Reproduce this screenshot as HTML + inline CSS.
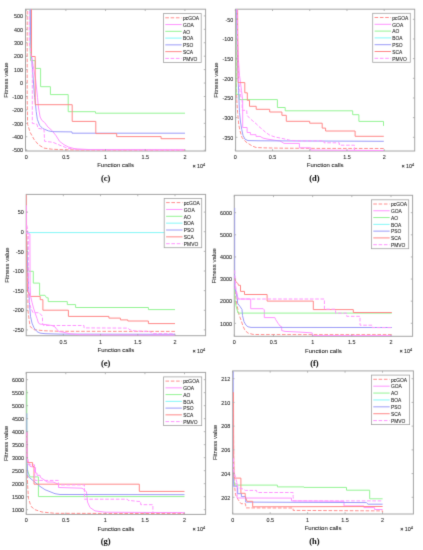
<!DOCTYPE html><html><head><meta charset="utf-8"><style>html,body{margin:0;padding:0;background:#fff;}svg{display:block;}text{font-family:"Liberation Sans", sans-serif;stroke:#262626;stroke-width:0.08px;}</style></head><body>
<svg width="423" height="550" viewBox="0 0 423 550">
<defs><filter id="bl" x="0" y="0" width="423" height="550" filterUnits="userSpaceOnUse" color-interpolation-filters="sRGB"><feConvolveMatrix order="3" kernelMatrix="0.0113 0.0838 0.0113 0.0838 0.6193 0.0838 0.0113 0.0838 0.0113" edgeMode="duplicate" preserveAlpha="false"/></filter></defs>
<g filter="url(#bl)">
<rect width="423" height="550" fill="#fff"/>
<g><clipPath id="cc"><rect x="25.5" y="9.2" width="180.1" height="141.8"/></clipPath><rect x="25.5" y="9.2" width="180.1" height="141.8" fill="none" stroke="#a4a4a4" stroke-width="1"/><g clip-path="url(#cc)" fill="none" stroke-width="1"><polyline points="27.2,0.3 27.2,100.3 27.6,124.3 30.1,132.3 34,139.3 38.4,144.7 44,148.1 51.8,149.2 63,149.7 80,150 185,150.1" stroke="#ff8e8e" stroke-dasharray="3.6 1.7"/><polyline points="30.6,0.3 31,40.3 31.6,56.3 33,65.3 35.5,78.3 37.5,97.3 38.4,107 40.1,117 41.8,120.3 44.6,122.5 47.9,127 51.8,130.3 56.2,135.9 59.6,141.4 64,144.7 68.4,147 75,148.8 90,149.6 185,149.9" stroke="#ff94ff"/><polyline points="29.9,0.3 30.2,51.3 30.5,60.6 35.3,60.6 35.3,68.4 40.6,68.4 40.6,86.7 50.4,86.7 50.4,94.6 68.2,94.6 68.2,111.7 95.5,111.7 95.5,113.2 185,113.2" stroke="#94f494"/><polyline points="30.2,0.3 30.6,35.3 31.2,51.3 31.8,60.3 34.6,97.3 35.1,100.3 36.2,111.3 37.3,119.2 39.6,125.3 42.9,128.6 48.4,130.9 52.9,131.7 72,131.9 72,133.2 185,133.2" stroke="#9c9cf8"/><polyline points="31.5,0.3 31.5,56.5 35.2,56.5 35.2,104.7 72.2,104.7 72.2,121.4 95.8,121.4 95.8,133.6 116.7,133.6 116.7,136.6 161.1,136.6 161.1,138.7 185,138.7" stroke="#ff8888"/><polyline points="29.2,0.3 29.3,41.3 30.5,52.3 32,62.3 32.3,70.3 32.3,123.3 37,124.3 38,128.3 44,129.3 44.6,141.3 53,142.3 60,145.3 68,148.3 80,149.6 185,149.9" stroke="#ff94ff" stroke-dasharray="3.6 1.7"/></g><path d="M26.2 151v-1.8M26.2 9.2v1.8M65.88 151v-1.8M65.88 9.2v1.8M105.55 151v-1.8M105.55 9.2v1.8M145.22 151v-1.8M145.22 9.2v1.8M184.9 151v-1.8M184.9 9.2v1.8M25.5 150.2h1.8M205.6 150.2h-1.8M25.5 136.77h1.8M205.6 136.77h-1.8M25.5 123.34h1.8M205.6 123.34h-1.8M25.5 109.91h1.8M205.6 109.91h-1.8M25.5 96.48h1.8M205.6 96.48h-1.8M25.5 83.05h1.8M205.6 83.05h-1.8M25.5 69.62h1.8M205.6 69.62h-1.8M25.5 56.19h1.8M205.6 56.19h-1.8M25.5 42.76h1.8M205.6 42.76h-1.8M25.5 29.33h1.8M205.6 29.33h-1.8M25.5 15.9h1.8M205.6 15.9h-1.8" stroke="#a4a4a4" stroke-width="0.8" fill="none"/><text x="26.2" y="158.8" font-size="5.4" text-anchor="middle" fill="#262626">0</text><text x="65.88" y="158.8" font-size="5.4" text-anchor="middle" fill="#262626">0.5</text><text x="105.55" y="158.8" font-size="5.4" text-anchor="middle" fill="#262626">1</text><text x="145.22" y="158.8" font-size="5.4" text-anchor="middle" fill="#262626">1.5</text><text x="184.9" y="158.8" font-size="5.4" text-anchor="middle" fill="#262626">2</text><text x="23.1" y="152.4" font-size="5.4" text-anchor="end" fill="#262626">-500</text><text x="23.1" y="138.97" font-size="5.4" text-anchor="end" fill="#262626">-400</text><text x="23.1" y="125.54" font-size="5.4" text-anchor="end" fill="#262626">-300</text><text x="23.1" y="112.11" font-size="5.4" text-anchor="end" fill="#262626">-200</text><text x="23.1" y="98.68" font-size="5.4" text-anchor="end" fill="#262626">-100</text><text x="23.1" y="85.25" font-size="5.4" text-anchor="end" fill="#262626">0</text><text x="23.1" y="71.82" font-size="5.4" text-anchor="end" fill="#262626">100</text><text x="23.1" y="58.39" font-size="5.4" text-anchor="end" fill="#262626">200</text><text x="23.1" y="44.96" font-size="5.4" text-anchor="end" fill="#262626">300</text><text x="23.1" y="31.53" font-size="5.4" text-anchor="end" fill="#262626">400</text><text x="23.1" y="18.1" font-size="5.4" text-anchor="end" fill="#262626">500</text><text x="115.55" y="167.2" font-size="6" text-anchor="middle" fill="#262626">Function calls</text><text transform="translate(7.9 80.1) rotate(-90)" font-size="6" text-anchor="middle" fill="#262626">Fitness value</text><text x="192.5" y="168" font-size="5.6" fill="#262626">&#215;</text><text x="196.9" y="168" font-size="5.4" fill="#262626">10</text><text x="203" y="165.9" font-size="3.9" fill="#262626">4</text><text x="105.6" y="180.9" font-size="8.5" font-weight="bold" text-anchor="middle" fill="#111" style="font-family:'Liberation Serif',serif;stroke:#111;stroke-width:0.05px">(c)</text><rect x="163.4" y="13.6" width="37.8" height="48.8" fill="#fff" stroke="#a4a4a4" stroke-width="0.8"/><line x1="165.3" y1="17.8" x2="181.7" y2="17.8" stroke="#ff8e8e" stroke-width="1" stroke-dasharray="3.6 1.7"/><text x="183" y="20.1" font-size="4.9" fill="#262626">pcGOA</text><line x1="165.3" y1="24.57" x2="181.7" y2="24.57" stroke="#ff94ff" stroke-width="1"/><text x="183" y="26.87" font-size="4.9" fill="#262626">GOA</text><line x1="165.3" y1="31.33" x2="181.7" y2="31.33" stroke="#94f494" stroke-width="1"/><text x="183" y="33.63" font-size="4.9" fill="#262626">AO</text><line x1="165.3" y1="38.1" x2="181.7" y2="38.1" stroke="#84f8f8" stroke-width="1"/><text x="183" y="40.4" font-size="4.9" fill="#262626">BOA</text><line x1="165.3" y1="44.87" x2="181.7" y2="44.87" stroke="#9c9cf8" stroke-width="1"/><text x="183" y="47.17" font-size="4.9" fill="#262626">PSO</text><line x1="165.3" y1="51.63" x2="181.7" y2="51.63" stroke="#ff8888" stroke-width="1"/><text x="183" y="53.93" font-size="4.9" fill="#262626">SCA</text><line x1="165.3" y1="58.4" x2="181.7" y2="58.4" stroke="#ff94ff" stroke-width="1" stroke-dasharray="3.6 1.7"/><text x="183" y="60.7" font-size="4.9" fill="#262626">PMVO</text></g>
<g><clipPath id="cd"><rect x="235.6" y="9.2" width="179.1" height="141.8"/></clipPath><rect x="235.6" y="9.2" width="179.1" height="141.8" fill="none" stroke="#a4a4a4" stroke-width="1"/><g clip-path="url(#cd)" fill="none" stroke-width="1"><polyline points="235.8,9.3 236.3,80.3 236.8,100.3 237.6,112.3 238.7,124.2 240,130.9 242,137.5 246,142 252,145.9 256,147.5 265,147.9 283,148.2 320,148.4 383.8,148.5" stroke="#ff8e8e" stroke-dasharray="3.6 1.7"/><polyline points="236.8,9.3 237.8,50.3 239.5,75.3 241.5,90.3 242.7,100.3 242.7,127.5 247.1,127.5 247.1,132.5 250.4,132.5 250.4,134.7 256,134.7 256,136.4 260,136.4 263,138.1 268,139.2 275,140.3 280,140.9 284,143.4 299.4,143.4 299.4,147.8 310.7,147.8 310.7,150.1 383.8,150.5" stroke="#ff94ff"/><polyline points="236.2,9.3 236.2,94.3 239.3,94.3 239.3,99.6 277.4,99.6 277.4,107.5 285.2,107.5 285.2,110.8 352.7,110.8 352.7,114.7 358.9,114.7 358.9,121.4 383.5,121.4 383.5,125.9" stroke="#94f494"/><polyline points="236.5,9.3 237.5,60.3 238.6,90.3 239.5,112.5 240.5,122 241.8,129.7 243,135.3 245,139.2 248,140.6 260,140.8 383.8,141.3" stroke="#9c9cf8"/><polyline points="237.6,9.3 238.2,82.6 244.8,82.6 244.8,92.8 247.3,92.8 247.3,100.3 249.5,100.3 249.5,106.3 256.2,106.3 256.2,109.3 269.7,109.3 269.7,112 281.9,112 281.9,115.3 286.3,115.3 286.3,121.3 309.7,121.3 309.7,123.2 322.2,123.2 322.2,128.1 325.6,128.1 325.6,131 355.1,131 355.1,136.3 383.8,136.3" stroke="#ff8888"/><polyline points="237,9.3 238.5,80.3 240.5,95.3 242.2,101.1 242.2,110.3 246.7,110.3 247,115.3 250,118.6 256,123.6 260,127.5 263,129.7 265,132 270,135.3 275,137 283,138.6 290,140.3 300,140.9 324,140.9 324,142.8 339.3,142.8 339.3,145.2 354.5,145.2 354.5,150.5 383.8,150.5" stroke="#ff94ff" stroke-dasharray="3.6 1.7"/></g><path d="M235.3 151v-1.8M235.3 9.2v1.8M272.52 151v-1.8M272.52 9.2v1.8M309.75 151v-1.8M309.75 9.2v1.8M346.98 151v-1.8M346.98 9.2v1.8M384.2 151v-1.8M384.2 9.2v1.8M235.6 137.3h1.8M414.7 137.3h-1.8M235.6 117.63h1.8M414.7 117.63h-1.8M235.6 97.97h1.8M414.7 97.97h-1.8M235.6 78.3h1.8M414.7 78.3h-1.8M235.6 58.63h1.8M414.7 58.63h-1.8M235.6 38.97h1.8M414.7 38.97h-1.8M235.6 19.3h1.8M414.7 19.3h-1.8" stroke="#a4a4a4" stroke-width="0.8" fill="none"/><text x="235.3" y="158.8" font-size="5.4" text-anchor="middle" fill="#262626">0</text><text x="272.52" y="158.8" font-size="5.4" text-anchor="middle" fill="#262626">0.5</text><text x="309.75" y="158.8" font-size="5.4" text-anchor="middle" fill="#262626">1</text><text x="346.98" y="158.8" font-size="5.4" text-anchor="middle" fill="#262626">1.5</text><text x="384.2" y="158.8" font-size="5.4" text-anchor="middle" fill="#262626">2</text><text x="233.2" y="139.5" font-size="5.4" text-anchor="end" fill="#262626">-350</text><text x="233.2" y="119.83" font-size="5.4" text-anchor="end" fill="#262626">-300</text><text x="233.2" y="100.17" font-size="5.4" text-anchor="end" fill="#262626">-250</text><text x="233.2" y="80.5" font-size="5.4" text-anchor="end" fill="#262626">-200</text><text x="233.2" y="60.83" font-size="5.4" text-anchor="end" fill="#262626">-150</text><text x="233.2" y="41.17" font-size="5.4" text-anchor="end" fill="#262626">-100</text><text x="233.2" y="21.5" font-size="5.4" text-anchor="end" fill="#262626">-50</text><text x="325.15" y="167.2" font-size="6" text-anchor="middle" fill="#262626">Function calls</text><text transform="translate(217.8 80.1) rotate(-90)" font-size="6" text-anchor="middle" fill="#262626">Fitness value</text><text x="401.6" y="168" font-size="5.6" fill="#262626">&#215;</text><text x="406" y="168" font-size="5.4" fill="#262626">10</text><text x="412.1" y="165.9" font-size="3.9" fill="#262626">4</text><text x="314.4" y="180.9" font-size="8.5" font-weight="bold" text-anchor="middle" fill="#111" style="font-family:'Liberation Serif',serif;stroke:#111;stroke-width:0.05px">(d)</text><rect x="372.7" y="13.3" width="37.6" height="49" fill="#fff" stroke="#a4a4a4" stroke-width="0.8"/><line x1="374.6" y1="17.5" x2="391" y2="17.5" stroke="#ff8e8e" stroke-width="1" stroke-dasharray="3.6 1.7"/><text x="392.3" y="19.8" font-size="4.9" fill="#262626">pcGOA</text><line x1="374.6" y1="24.3" x2="391" y2="24.3" stroke="#ff94ff" stroke-width="1"/><text x="392.3" y="26.6" font-size="4.9" fill="#262626">GOA</text><line x1="374.6" y1="31.1" x2="391" y2="31.1" stroke="#94f494" stroke-width="1"/><text x="392.3" y="33.4" font-size="4.9" fill="#262626">AO</text><line x1="374.6" y1="37.9" x2="391" y2="37.9" stroke="#84f8f8" stroke-width="1"/><text x="392.3" y="40.2" font-size="4.9" fill="#262626">BOA</text><line x1="374.6" y1="44.7" x2="391" y2="44.7" stroke="#9c9cf8" stroke-width="1"/><text x="392.3" y="47" font-size="4.9" fill="#262626">PSO</text><line x1="374.6" y1="51.5" x2="391" y2="51.5" stroke="#ff8888" stroke-width="1"/><text x="392.3" y="53.8" font-size="4.9" fill="#262626">SCA</text><line x1="374.6" y1="58.3" x2="391" y2="58.3" stroke="#ff94ff" stroke-width="1" stroke-dasharray="3.6 1.7"/><text x="392.3" y="60.6" font-size="4.9" fill="#262626">PMVO</text></g>
<g><clipPath id="ce"><rect x="26.2" y="194.4" width="179.4" height="141.3"/></clipPath><rect x="26.2" y="194.4" width="179.4" height="141.3" fill="none" stroke="#a4a4a4" stroke-width="1"/><g clip-path="url(#ce)" fill="none" stroke-width="1"><polyline points="26.6,225.3 27.5,255.3 28,310.9 30,326.4 34,329.7 45,330.8 60,331.3 175,331.4" stroke="#ff8e8e" stroke-dasharray="3.6 1.7"/><polyline points="26.5,240.3 27.5,265.3 29,271.3 33.3,271.3 33.3,283.1 39.6,283.1 39.6,295.3 45,295.3 46.5,297.8 48.2,297.8 48.2,301.6 67.3,301.6 67.3,304.6 75.6,304.6 75.6,307.5 148.4,307.5 148.4,309.6 175,309.6" stroke="#94f494"/><polyline points="26,232.6 175,232.6" stroke="#84f8f8"/><polyline points="26.4,230.3 27,255.3 28.5,285.3 29.5,304.3 30.5,316.3 32,323.1 34,327.9 37,331.6 40,333.1 45,333.7 60,334.1 175,334.3" stroke="#9c9cf8"/><polyline points="26.3,194.3 26.5,260.3 27.5,290.3 30.2,296.4 40.2,296.4 40.2,299.7 42.9,299.7 42.9,310.2 68.4,310.2 68.4,316.4 108.9,316.4 108.9,318.1 120.4,318.1 120.4,319.9 127.8,319.9 127.8,321 148.4,321 148.4,323.6 175,323.6" stroke="#ff8888"/><polyline points="26.5,205.3 26.6,233.9 29.9,233.9 30.1,285.3 30.5,295.7 32,302.3 33.5,308 35,312.7 37,318.4 38.5,323.1 40,324.1 45,324.5 52,325.5 55,326.9 57,329.7 59,331.6 63,332.1 70,333.8 80,334.8 175,335.3" stroke="#ff94ff"/><polyline points="26.7,225.3 28.3,233.9 28.4,290.3 29.5,303.3 31,308.3 33,312.7 39.2,312.7 42.5,316.3 42.5,323.3 43.5,325.5 84,325.5 84,327.9 127.8,328.1 130,329.9 135,331 150,331.4 152,333.6 175,333.8" stroke="#ff94ff" stroke-dasharray="3.6 1.7"/></g><path d="M63.33 335.7v-1.8M63.33 194.4v1.8M100.55 335.7v-1.8M100.55 194.4v1.8M137.78 335.7v-1.8M137.78 194.4v1.8M175 335.7v-1.8M175 194.4v1.8M26.2 329.9h1.8M205.6 329.9h-1.8M26.2 310.27h1.8M205.6 310.27h-1.8M26.2 290.63h1.8M205.6 290.63h-1.8M26.2 271h1.8M205.6 271h-1.8M26.2 251.37h1.8M205.6 251.37h-1.8M26.2 231.73h1.8M205.6 231.73h-1.8M26.2 212.1h1.8M205.6 212.1h-1.8" stroke="#a4a4a4" stroke-width="0.8" fill="none"/><text x="63.33" y="343.5" font-size="5.4" text-anchor="middle" fill="#262626">0.5</text><text x="100.55" y="343.5" font-size="5.4" text-anchor="middle" fill="#262626">1</text><text x="137.78" y="343.5" font-size="5.4" text-anchor="middle" fill="#262626">1.5</text><text x="175" y="343.5" font-size="5.4" text-anchor="middle" fill="#262626">2</text><text x="23.8" y="332.1" font-size="5.4" text-anchor="end" fill="#262626">-250</text><text x="23.8" y="312.47" font-size="5.4" text-anchor="end" fill="#262626">-200</text><text x="23.8" y="292.83" font-size="5.4" text-anchor="end" fill="#262626">-150</text><text x="23.8" y="273.2" font-size="5.4" text-anchor="end" fill="#262626">-100</text><text x="23.8" y="253.57" font-size="5.4" text-anchor="end" fill="#262626">-50</text><text x="23.8" y="233.93" font-size="5.4" text-anchor="end" fill="#262626">0</text><text x="23.8" y="214.3" font-size="5.4" text-anchor="end" fill="#262626">50</text><text x="115.9" y="351.9" font-size="6" text-anchor="middle" fill="#262626">Function calls</text><text transform="translate(8.7 265.05) rotate(-90)" font-size="6" text-anchor="middle" fill="#262626">Fitness value</text><text x="192.5" y="352.7" font-size="5.6" fill="#262626">&#215;</text><text x="196.9" y="352.7" font-size="5.4" fill="#262626">10</text><text x="203" y="350.6" font-size="3.9" fill="#262626">4</text><text x="105.6" y="365.6" font-size="8.5" font-weight="bold" text-anchor="middle" fill="#111" style="font-family:'Liberation Serif',serif;stroke:#111;stroke-width:0.05px">(e)</text><rect x="164.2" y="198.4" width="37.5" height="49.3" fill="#fff" stroke="#a4a4a4" stroke-width="0.8"/><line x1="166.1" y1="202.6" x2="182.5" y2="202.6" stroke="#ff8e8e" stroke-width="1" stroke-dasharray="3.6 1.7"/><text x="183.8" y="204.9" font-size="4.9" fill="#262626">pcGOA</text><line x1="166.1" y1="209.45" x2="182.5" y2="209.45" stroke="#ff94ff" stroke-width="1"/><text x="183.8" y="211.75" font-size="4.9" fill="#262626">GOA</text><line x1="166.1" y1="216.3" x2="182.5" y2="216.3" stroke="#94f494" stroke-width="1"/><text x="183.8" y="218.6" font-size="4.9" fill="#262626">AO</text><line x1="166.1" y1="223.15" x2="182.5" y2="223.15" stroke="#84f8f8" stroke-width="1"/><text x="183.8" y="225.45" font-size="4.9" fill="#262626">BOA</text><line x1="166.1" y1="230" x2="182.5" y2="230" stroke="#9c9cf8" stroke-width="1"/><text x="183.8" y="232.3" font-size="4.9" fill="#262626">PSO</text><line x1="166.1" y1="236.85" x2="182.5" y2="236.85" stroke="#ff8888" stroke-width="1"/><text x="183.8" y="239.15" font-size="4.9" fill="#262626">SCA</text><line x1="166.1" y1="243.7" x2="182.5" y2="243.7" stroke="#ff94ff" stroke-width="1" stroke-dasharray="3.6 1.7"/><text x="183.8" y="246" font-size="4.9" fill="#262626">PMVO</text></g>
<g><clipPath id="cf"><rect x="234.3" y="195.3" width="178.3" height="141"/></clipPath><rect x="234.3" y="195.3" width="178.3" height="141" fill="none" stroke="#a4a4a4" stroke-width="1"/><g clip-path="url(#cf)" fill="none" stroke-width="1"><polyline points="234.7,285.3 235.5,295.3 237,305.3 239,314.7 241,320 243,326.1 245,330.4 248,333.1 253,334.4 260,334.6 391.8,334.7" stroke="#ff8e8e" stroke-dasharray="3.6 1.7"/><polyline points="234.6,275.3 235,288.9 236.5,291.3 237.5,296.3 238.3,299 250.7,299 250.7,308.7 263.2,308.7 264.3,309.9 264.3,317.6 274.9,317.6 275.5,319.3 278,323.2 280,326 281.7,326.7 281.7,330.6 285,331.4 300,332.1 312.2,332.9 312.2,335.6 391.8,335.6" stroke="#ff94ff"/><polyline points="234.5,289.3 235,300.3 236,305.9 238,313.1 391.8,313.1" stroke="#94f494"/><polyline points="234.7,207.8 234.7,287.3 236,292.3 237.3,298.3 237.6,303.3 240.3,306.9 242,309.5 242.5,315.6 244,321.7 246,325.2 248,326.8 251,327.4 391.8,327.5" stroke="#9c9cf8"/><polyline points="234.6,278.3 236,281.7 238,283.8 238.5,285.3 240.5,285.3 240.5,291.4 244.5,291.4 244.5,294.5 267.1,294.5 267.1,301.1 313.3,301.1 313.3,309.6 353.3,309.6 353.3,312.5 391.8,312.5" stroke="#ff8888"/><polyline points="234.6,270.3 235.5,285.3 236.5,292.3 237.5,297.3 238.3,299 324.4,299 324.4,309.2 335.6,309.2 335.6,313.2 346.7,313.2 346.7,316.3 360,316.3 360,325.2 372.2,325.2 372.2,327.6 391.8,327.6" stroke="#ff94ff" stroke-dasharray="3.6 1.7"/></g><path d="M234.3 336.3v-1.8M234.3 195.3v1.8M273.48 336.3v-1.8M273.48 195.3v1.8M312.65 336.3v-1.8M312.65 195.3v1.8M351.82 336.3v-1.8M351.82 195.3v1.8M391 336.3v-1.8M391 195.3v1.8M234.3 323.3h1.8M412.6 323.3h-1.8M234.3 301.18h1.8M412.6 301.18h-1.8M234.3 279.06h1.8M412.6 279.06h-1.8M234.3 256.94h1.8M412.6 256.94h-1.8M234.3 234.82h1.8M412.6 234.82h-1.8M234.3 212.7h1.8M412.6 212.7h-1.8" stroke="#a4a4a4" stroke-width="0.8" fill="none"/><text x="234.3" y="344.1" font-size="5.4" text-anchor="middle" fill="#262626">0</text><text x="273.48" y="344.1" font-size="5.4" text-anchor="middle" fill="#262626">0.5</text><text x="312.65" y="344.1" font-size="5.4" text-anchor="middle" fill="#262626">1</text><text x="351.82" y="344.1" font-size="5.4" text-anchor="middle" fill="#262626">1.5</text><text x="391" y="344.1" font-size="5.4" text-anchor="middle" fill="#262626">2</text><text x="231.9" y="325.5" font-size="5.4" text-anchor="end" fill="#262626">1000</text><text x="231.9" y="303.38" font-size="5.4" text-anchor="end" fill="#262626">2000</text><text x="231.9" y="281.26" font-size="5.4" text-anchor="end" fill="#262626">3000</text><text x="231.9" y="259.14" font-size="5.4" text-anchor="end" fill="#262626">4000</text><text x="231.9" y="237.02" font-size="5.4" text-anchor="end" fill="#262626">5000</text><text x="231.9" y="214.9" font-size="5.4" text-anchor="end" fill="#262626">6000</text><text x="323.45" y="352.5" font-size="6" text-anchor="middle" fill="#262626">Function calls</text><text transform="translate(216.2 265.8) rotate(-90)" font-size="6" text-anchor="middle" fill="#262626">Fitness value</text><text x="399.5" y="353.3" font-size="5.6" fill="#262626">&#215;</text><text x="403.9" y="353.3" font-size="5.4" fill="#262626">10</text><text x="410" y="351.2" font-size="3.9" fill="#262626">4</text><text x="314.4" y="366.2" font-size="8.5" font-weight="bold" text-anchor="middle" fill="#111" style="font-family:'Liberation Serif',serif;stroke:#111;stroke-width:0.05px">(f)</text><rect x="371.4" y="199.8" width="37.3" height="48.9" fill="#fff" stroke="#a4a4a4" stroke-width="0.8"/><line x1="373.3" y1="204" x2="389.7" y2="204" stroke="#ff8e8e" stroke-width="1" stroke-dasharray="3.6 1.7"/><text x="391" y="206.3" font-size="4.9" fill="#262626">pcGOA</text><line x1="373.3" y1="210.78" x2="389.7" y2="210.78" stroke="#ff94ff" stroke-width="1"/><text x="391" y="213.08" font-size="4.9" fill="#262626">GOA</text><line x1="373.3" y1="217.57" x2="389.7" y2="217.57" stroke="#94f494" stroke-width="1"/><text x="391" y="219.87" font-size="4.9" fill="#262626">AO</text><line x1="373.3" y1="224.35" x2="389.7" y2="224.35" stroke="#84f8f8" stroke-width="1"/><text x="391" y="226.65" font-size="4.9" fill="#262626">BOA</text><line x1="373.3" y1="231.13" x2="389.7" y2="231.13" stroke="#9c9cf8" stroke-width="1"/><text x="391" y="233.43" font-size="4.9" fill="#262626">PSO</text><line x1="373.3" y1="237.92" x2="389.7" y2="237.92" stroke="#ff8888" stroke-width="1"/><text x="391" y="240.22" font-size="4.9" fill="#262626">SCA</text><line x1="373.3" y1="244.7" x2="389.7" y2="244.7" stroke="#ff94ff" stroke-width="1" stroke-dasharray="3.6 1.7"/><text x="391" y="247" font-size="4.9" fill="#262626">PMVO</text></g>
<g><clipPath id="cg"><rect x="26.3" y="372.4" width="179.3" height="142"/></clipPath><rect x="26.3" y="372.4" width="179.3" height="142" fill="none" stroke="#a4a4a4" stroke-width="1"/><g clip-path="url(#cg)" fill="none" stroke-width="1"><polyline points="26.8,432.3 27,456.3 27.5,483.1 28.5,498.6 31,506.4 35,509.7 42,512 55,513.3 184.5,513.6" stroke="#ff8e8e" stroke-dasharray="3.6 1.7"/><polyline points="26.8,432.3 26.9,456.3 28,460.3 30,466.4 35.5,467.5 35.5,473.1 37,473.1 37,475.3 40,475.3 40.5,477.5 44,479.7 47,482 53,482 58.5,484.2 58.5,487.5 82,488.2 85,490.3 86.5,492 87,496.4 87.5,502 90,507.5 95,510.9 105,512.2 184.5,512.7" stroke="#ff94ff"/><polyline points="26.8,390.3 26.8,467.3 28,472 30,476.9 38.4,476.9 38.4,496.6 184.5,496.6" stroke="#94f494"/><polyline points="26.8,413.3 26.8,460.3 28,476.4 32,479.7 36,483.1 40,486.4 45,489.7 55,493.7 60,494.5 184.5,494.7" stroke="#9c9cf8"/><polyline points="26.8,432.3 26.9,456.3 27.6,462.6 32.6,462.6 32.6,466.3 34,466.3 34,484.2 139.3,484.2 139.3,491.4 184.5,491.4" stroke="#ff8888"/><polyline points="26.8,432.3 27,456.3 28.6,464.8 34.5,464.8 34.5,472.3 35.1,480.4 58.4,480.4 58.4,484.9 84.4,484.9 84.4,499.2 127.3,499.2 128,500.3 138,501.4 140.7,501.4 140.7,504.7 152.9,504.7 152.9,512.5 184.5,512.5" stroke="#ff94ff" stroke-dasharray="3.6 1.7"/></g><path d="M26.2 514.4v-1.8M26.2 372.4v1.8M65.78 514.4v-1.8M65.78 372.4v1.8M105.35 514.4v-1.8M105.35 372.4v1.8M144.93 514.4v-1.8M144.93 372.4v1.8M184.5 514.4v-1.8M184.5 372.4v1.8M26.3 509.7h1.8M205.6 509.7h-1.8M26.3 496.7h1.8M205.6 496.7h-1.8M26.3 483.7h1.8M205.6 483.7h-1.8M26.3 470.7h1.8M205.6 470.7h-1.8M26.3 457.7h1.8M205.6 457.7h-1.8M26.3 444.7h1.8M205.6 444.7h-1.8M26.3 431.7h1.8M205.6 431.7h-1.8M26.3 418.7h1.8M205.6 418.7h-1.8M26.3 405.7h1.8M205.6 405.7h-1.8M26.3 392.7h1.8M205.6 392.7h-1.8M26.3 379.7h1.8M205.6 379.7h-1.8" stroke="#a4a4a4" stroke-width="0.8" fill="none"/><text x="26.2" y="522.2" font-size="5.4" text-anchor="middle" fill="#262626">0</text><text x="65.78" y="522.2" font-size="5.4" text-anchor="middle" fill="#262626">0.5</text><text x="105.35" y="522.2" font-size="5.4" text-anchor="middle" fill="#262626">1</text><text x="144.93" y="522.2" font-size="5.4" text-anchor="middle" fill="#262626">1.5</text><text x="184.5" y="522.2" font-size="5.4" text-anchor="middle" fill="#262626">2</text><text x="23.9" y="511.9" font-size="5.4" text-anchor="end" fill="#262626">1000</text><text x="23.9" y="498.9" font-size="5.4" text-anchor="end" fill="#262626">1500</text><text x="23.9" y="485.9" font-size="5.4" text-anchor="end" fill="#262626">2000</text><text x="23.9" y="472.9" font-size="5.4" text-anchor="end" fill="#262626">2500</text><text x="23.9" y="459.9" font-size="5.4" text-anchor="end" fill="#262626">3000</text><text x="23.9" y="446.9" font-size="5.4" text-anchor="end" fill="#262626">3500</text><text x="23.9" y="433.9" font-size="5.4" text-anchor="end" fill="#262626">4000</text><text x="23.9" y="420.9" font-size="5.4" text-anchor="end" fill="#262626">4500</text><text x="23.9" y="407.9" font-size="5.4" text-anchor="end" fill="#262626">5000</text><text x="23.9" y="394.9" font-size="5.4" text-anchor="end" fill="#262626">5500</text><text x="23.9" y="381.9" font-size="5.4" text-anchor="end" fill="#262626">6000</text><text x="115.95" y="530.6" font-size="6" text-anchor="middle" fill="#262626">Function calls</text><text transform="translate(7.7 443.4) rotate(-90)" font-size="6" text-anchor="middle" fill="#262626">Fitness value</text><text x="192.5" y="531.4" font-size="5.6" fill="#262626">&#215;</text><text x="196.9" y="531.4" font-size="5.4" fill="#262626">10</text><text x="203" y="529.3" font-size="3.9" fill="#262626">4</text><text x="105.6" y="544.3" font-size="8.5" font-weight="bold" text-anchor="middle" fill="#111" style="font-family:'Liberation Serif',serif;stroke:#111;stroke-width:0.05px">(g)</text><rect x="163.6" y="376.9" width="38.1" height="48.7" fill="#fff" stroke="#a4a4a4" stroke-width="0.8"/><line x1="165.5" y1="381.1" x2="181.9" y2="381.1" stroke="#ff8e8e" stroke-width="1" stroke-dasharray="3.6 1.7"/><text x="183.2" y="383.4" font-size="4.9" fill="#262626">pcGOA</text><line x1="165.5" y1="387.85" x2="181.9" y2="387.85" stroke="#ff94ff" stroke-width="1"/><text x="183.2" y="390.15" font-size="4.9" fill="#262626">GOA</text><line x1="165.5" y1="394.6" x2="181.9" y2="394.6" stroke="#94f494" stroke-width="1"/><text x="183.2" y="396.9" font-size="4.9" fill="#262626">AO</text><line x1="165.5" y1="401.35" x2="181.9" y2="401.35" stroke="#84f8f8" stroke-width="1"/><text x="183.2" y="403.65" font-size="4.9" fill="#262626">BOA</text><line x1="165.5" y1="408.1" x2="181.9" y2="408.1" stroke="#9c9cf8" stroke-width="1"/><text x="183.2" y="410.4" font-size="4.9" fill="#262626">PSO</text><line x1="165.5" y1="414.85" x2="181.9" y2="414.85" stroke="#ff8888" stroke-width="1"/><text x="183.2" y="417.15" font-size="4.9" fill="#262626">SCA</text><line x1="165.5" y1="421.6" x2="181.9" y2="421.6" stroke="#ff94ff" stroke-width="1" stroke-dasharray="3.6 1.7"/><text x="183.2" y="423.9" font-size="4.9" fill="#262626">PMVO</text></g>
<g><clipPath id="ch"><rect x="232.7" y="370.9" width="180.7" height="143.1"/></clipPath><rect x="232.7" y="370.9" width="180.7" height="143.1" fill="none" stroke="#a4a4a4" stroke-width="1"/><g clip-path="url(#ch)" fill="none" stroke-width="1"><polyline points="233.2,392.3 233.8,470.3 234.5,485.2 235.5,494.7 238,499.4 241,503.7 245.5,503.7 246,507.9 293.1,508 293.1,510.4 382.6,510.9 382.6,512.3" stroke="#ff8e8e" stroke-dasharray="3.6 1.7"/><polyline points="233.3,455.3 233.6,473.1 233.8,483.3 237.1,483.3 237.1,498 291.5,498.1 291.5,500.9 320,501.1 344,501.3 344,505.9 363.9,505.9 363.9,507.6 374.6,507.6 374.6,509.5 382.6,509.5" stroke="#ff94ff"/><polyline points="233.3,455.3 233.5,479.5 235,485.1 277.4,485.1 277.4,486.9 303.9,486.9 304,487.4 346.5,487.4 346.5,490.2 369.7,490.2 369.7,498.8 382.6,498.8" stroke="#94f494"/><polyline points="233.2,371.3 233.3,486.2 237.7,486.2 237.7,493.7 241.4,493.7 241.4,496.6 245.7,496.6 245.7,502.1 366.4,502.6 368,504.2 382.6,504.2" stroke="#9c9cf8"/><polyline points="233.5,392.3 233.7,457.6 234.1,478.1 240.9,478.1 240.9,493.3 245.2,493.3 245.2,496.6 247,501.3 252.7,501.3 252.7,506.8 382.6,506.5" stroke="#ff8888"/><polyline points="233.4,458.3 233.6,470.3 237,482.8 237.5,487.6 243,489 245.2,490.4 256.5,490.4 257,492.5 293.1,492.5 293.1,496.5 293.5,500.9 382.6,500.9" stroke="#ff94ff" stroke-dasharray="3.6 1.7"/></g><path d="M232.7 514v-1.8M232.7 370.9v1.8M270.15 514v-1.8M270.15 370.9v1.8M307.6 514v-1.8M307.6 370.9v1.8M345.05 514v-1.8M345.05 370.9v1.8M382.5 514v-1.8M382.5 370.9v1.8M232.7 497.3h1.8M413.4 497.3h-1.8M232.7 473.58h1.8M413.4 473.58h-1.8M232.7 449.86h1.8M413.4 449.86h-1.8M232.7 426.14h1.8M413.4 426.14h-1.8M232.7 402.42h1.8M413.4 402.42h-1.8M232.7 378.7h1.8M413.4 378.7h-1.8" stroke="#a4a4a4" stroke-width="0.8" fill="none"/><text x="232.7" y="521.8" font-size="5.4" text-anchor="middle" fill="#262626">0</text><text x="270.15" y="521.8" font-size="5.4" text-anchor="middle" fill="#262626">0.5</text><text x="307.6" y="521.8" font-size="5.4" text-anchor="middle" fill="#262626">1</text><text x="345.05" y="521.8" font-size="5.4" text-anchor="middle" fill="#262626">1.5</text><text x="382.5" y="521.8" font-size="5.4" text-anchor="middle" fill="#262626">2</text><text x="230.3" y="499.5" font-size="5.4" text-anchor="end" fill="#262626">202</text><text x="230.3" y="475.78" font-size="5.4" text-anchor="end" fill="#262626">204</text><text x="230.3" y="452.06" font-size="5.4" text-anchor="end" fill="#262626">206</text><text x="230.3" y="428.34" font-size="5.4" text-anchor="end" fill="#262626">208</text><text x="230.3" y="404.62" font-size="5.4" text-anchor="end" fill="#262626">210</text><text x="230.3" y="380.9" font-size="5.4" text-anchor="end" fill="#262626">212</text><text x="323.05" y="530.2" font-size="6" text-anchor="middle" fill="#262626">Function calls</text><text transform="translate(216.7 442.45) rotate(-90)" font-size="6" text-anchor="middle" fill="#262626">Fitness value</text><text x="400.3" y="531" font-size="5.6" fill="#262626">&#215;</text><text x="404.7" y="531" font-size="5.4" fill="#262626">10</text><text x="410.8" y="528.9" font-size="3.9" fill="#262626">4</text><text x="314.4" y="543.9" font-size="8.5" font-weight="bold" text-anchor="middle" fill="#111" style="font-family:'Liberation Serif',serif;stroke:#111;stroke-width:0.05px">(h)</text><rect x="371.4" y="375.1" width="38.2" height="49.5" fill="#fff" stroke="#a4a4a4" stroke-width="0.8"/><line x1="373.3" y1="379.3" x2="389.7" y2="379.3" stroke="#ff8e8e" stroke-width="1" stroke-dasharray="3.6 1.7"/><text x="391" y="381.6" font-size="4.9" fill="#262626">pcGOA</text><line x1="373.3" y1="386.18" x2="389.7" y2="386.18" stroke="#ff94ff" stroke-width="1"/><text x="391" y="388.48" font-size="4.9" fill="#262626">GOA</text><line x1="373.3" y1="393.07" x2="389.7" y2="393.07" stroke="#94f494" stroke-width="1"/><text x="391" y="395.37" font-size="4.9" fill="#262626">AO</text><line x1="373.3" y1="399.95" x2="389.7" y2="399.95" stroke="#84f8f8" stroke-width="1"/><text x="391" y="402.25" font-size="4.9" fill="#262626">BOA</text><line x1="373.3" y1="406.83" x2="389.7" y2="406.83" stroke="#9c9cf8" stroke-width="1"/><text x="391" y="409.13" font-size="4.9" fill="#262626">PSO</text><line x1="373.3" y1="413.72" x2="389.7" y2="413.72" stroke="#ff8888" stroke-width="1"/><text x="391" y="416.02" font-size="4.9" fill="#262626">SCA</text><line x1="373.3" y1="420.6" x2="389.7" y2="420.6" stroke="#ff94ff" stroke-width="1" stroke-dasharray="3.6 1.7"/><text x="391" y="422.9" font-size="4.9" fill="#262626">PMVO</text></g>
</g></svg></body></html>
